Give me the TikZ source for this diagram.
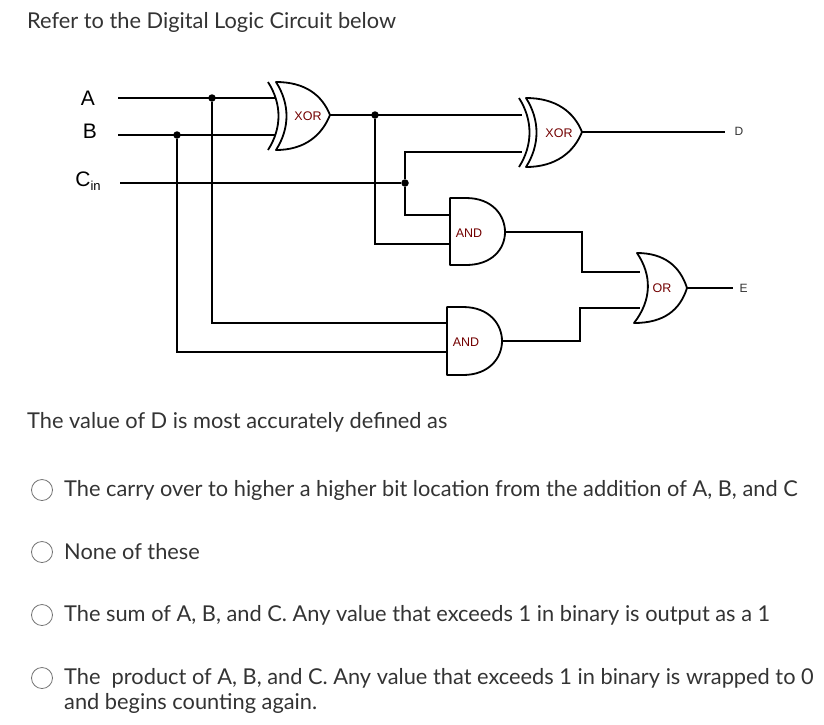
\documentclass[tikz,border=0pt]{standalone}
\usepackage{fontspec}
\setmainfont{Lato}
\newfontfamily\arialf{Liberation Sans}
\begin{document}
\begin{tikzpicture}[x=1pt,y=-1pt,
  wire/.style={line width=1.8pt,line join=miter},
  gate/.style={line width=1.8pt,fill=white,line join=round},
  glab/.style={font=\arialf\fontsize{12.5}{14}\selectfont,text=red!45!black},
  ilab/.style={font=\arialf\fontsize{21}{24}\selectfont},
  olab/.style={font=\arialf\fontsize{12}{14}\selectfont,text=black!80},
  txt/.style={font=\fontsize{21.8}{26}\selectfont,text=black!80,anchor=west,inner sep=0pt},
  dot/.style={circle,fill=black,inner sep=0pt,minimum size=7.5pt},
  radio/.style={circle,draw=black!55,line width=0.8pt,inner sep=0pt,minimum size=21pt}]
\useasboundingbox (0,0) rectangle (824,724);
% inputs
\node[ilab] (la) at (88,98) {A};
\node[ilab] (lb) at (90,131) {B};
\node[ilab] (lc) at (88,181) {C\raisebox{-0.3ex}{\fontsize{13}{14}\selectfont in}};
\coordinate (a0) at (118,98); \coordinate (b0) at (118,135); \coordinate (c0) at (120,183);
\node[dot] (ja) at (212,98) {}; \node[dot] (jb) at (177,135) {};
\node[dot] (jx) at (375,115) {}; \node[dot] (jc) at (405,183) {};
% wires
\draw[wire] (a0) -- (276,98);
\draw[wire] (b0) -- (276,135);
\draw[wire] (c0) -- (jc);
\draw[wire] (330,115) -- (522,115);
\draw[wire] (jc) |- (522,152);
\draw[wire] (jc) |- (450,215);
\draw[wire] (jx) |- (450,244);
\draw[wire] (ja) |- (447,323);
\draw[wire] (jb) |- (447,352);
\draw[wire] (505,232) -| (582,272) -- (640,272);
\draw[wire] (502,341) -| (580,308) -- (640,308);
\coordinate (dend) at (725,132); \coordinate (eend) at (733,288);
\draw[wire] (582,132) -- (dend);
\draw[wire] (687,288) -- (eend);
\node[olab,anchor=west] (ld) at (731,131) {D};
\node[olab,anchor=west] (le) at (736,288) {E};
% XOR1
\draw[gate] (276,82) .. controls (305,82) and (322,95) .. (330,115) .. controls (322,135) and (305,150) .. (276,150) .. controls (290,128) and (290,104) .. cycle;
\draw[line width=1.8pt] (268,82) .. controls (282,104) and (282,128) .. (268,150);
\node[glab] (x1) at (308,116) {XOR};
% XOR2
\draw[gate] (526,98) .. controls (556,98) and (574,112) .. (582,132) .. controls (574,152) and (556,167) .. (526,167) .. controls (540,145) and (540,120) .. cycle;
\draw[line width=1.8pt] (519,98) .. controls (533,120) and (533,145) .. (519,167);
\node[glab] (x2) at (559,133) {XOR};
% AND1
\draw[gate] (450,198) -- (466,198) .. controls (492,198) and (505,215) .. (505,232) .. controls (505,249) and (492,265) .. (466,265) -- (450,265) -- cycle;
\node[glab] (n1) at (469,233) {AND};
% AND2
\draw[gate] (447,307) -- (463,307) .. controls (489,307) and (502,324) .. (502,341) .. controls (502,358) and (489,375) .. (463,375) -- (447,375) -- cycle;
\node[glab] (n2) at (466,342) {AND};
% OR
\draw[gate] (637,253) .. controls (664,253) and (680,266) .. (687,288) .. controls (680,310) and (664,323) .. (634,323) .. controls (652,300) and (652,275) .. cycle;
\node[glab] (o1) at (662,288) {OR};
% text
\node[txt] (t0) at (27,22) {Refer to the Digital Logic Circuit below};
\node[txt] (t1) at (27,422) {The value of D is most accurately defined as};
\node[radio] (r1) at (42,490) {}; \node[txt] (o1t) at (64,490) {The carry over to higher a higher bit location from the addition of A, B, and C};
\node[radio] (r2) at (42,552) {}; \node[txt] (o2t) at (64,552) {None of these};
\node[radio] (r3) at (42,615) {}; \node[txt] (o3t) at (64,615) {The sum of A, B, and C. Any value that exceeds 1 in binary is output as a 1};
\node[radio] (r4) at (42,678) {}; \node[txt] (o4t) at (64,678) {The\ \ product of A, B, and C. Any value that exceeds 1 in binary is wrapped to 0};
\node[txt] (o4u) at (64,703) {and begins counting again.};
\end{tikzpicture}
\end{document}
